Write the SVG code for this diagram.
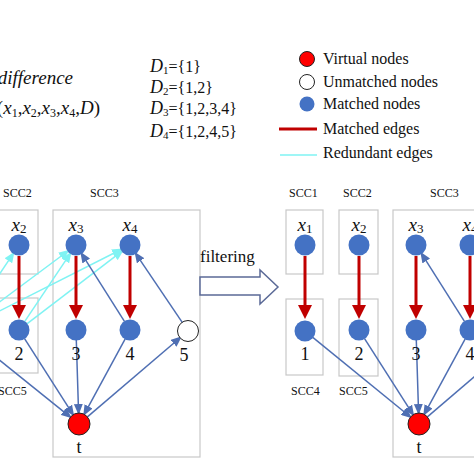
<svg xmlns="http://www.w3.org/2000/svg" width="474" height="474" viewBox="0 0 474 474">
<style>
text{font-family:"Liberation Serif","DejaVu Serif",serif;fill:#111}
.it{font-style:italic}
.scc{font-size:12px}
.lbl{font-size:18px;text-anchor:middle}
.xl{font-size:19px;text-anchor:middle}
.leg{font-size:16px}
.box{fill:none;stroke:#c8c8c8;stroke-width:1.2}
.m{fill:#4472c4}
.v{fill:#ff0000;stroke:#222;stroke-width:1}
.u{fill:#fff;stroke:#222;stroke-width:1}
.red{stroke:#c00000;stroke-width:3;fill:none}
.blue{stroke:#4f6fb3;stroke-width:1.5;fill:none}
.cyan{stroke:#7ff3f3;stroke-width:1.5;fill:none}
</style>
<defs>
<marker id="ar" markerUnits="userSpaceOnUse" markerWidth="14" markerHeight="14" refX="10" refY="7" orient="auto"><path d="M0,0 L14,7 L0,14 z" fill="#c00000"/></marker>
<marker id="ab" markerUnits="userSpaceOnUse" markerWidth="11" markerHeight="9" refX="9" refY="4.5" orient="auto"><path d="M0,0 L11,4.5 L0,9 z" fill="#4f6fb3"/></marker>
<marker id="ac" markerUnits="userSpaceOnUse" markerWidth="11" markerHeight="9" refX="9" refY="4.5" orient="auto"><path d="M0,0 L11,4.5 L0,9 z" fill="#7ff3f3"/></marker>
</defs>
<rect width="474" height="474" fill="#fff"/>

<g id="formula">
<text class="it" x="73" y="84" font-size="19" text-anchor="end">difference</text>
<text x="100" y="114" font-size="19" text-anchor="end">(<tspan class="it">x</tspan><tspan font-size="12" dy="3">1</tspan><tspan dy="-3">,</tspan><tspan class="it">x</tspan><tspan font-size="12" dy="3">2</tspan><tspan dy="-3">,</tspan><tspan class="it">x</tspan><tspan font-size="12" dy="3">3</tspan><tspan dy="-3">,</tspan><tspan class="it">x</tspan><tspan font-size="12" dy="3">4</tspan><tspan dy="-3">,</tspan><tspan class="it">D</tspan>)</text>
<text x="150" y="72" font-size="16"><tspan class="it" font-size="18">D</tspan><tspan font-size="11" dy="2">1</tspan><tspan dy="-2">={1}</tspan></text>
<text x="150" y="93" font-size="16"><tspan class="it" font-size="18">D</tspan><tspan font-size="11" dy="2">2</tspan><tspan dy="-2">={1,2}</tspan></text>
<text x="150" y="114" font-size="16"><tspan class="it" font-size="18">D</tspan><tspan font-size="11" dy="2">3</tspan><tspan dy="-2">={1,2,3,4}</tspan></text>
<text x="150" y="137" font-size="16"><tspan class="it" font-size="18">D</tspan><tspan font-size="11" dy="2">4</tspan><tspan dy="-2">={1,2,4,5}</tspan></text>
</g>

<g id="legend">
<circle class="v" cx="307" cy="59" r="7.5"/>
<circle class="u" cx="307" cy="82" r="7.5"/>
<circle class="m" cx="307" cy="104" r="7.5"/>
<line x1="279" y1="129" x2="317" y2="129" class="red"/>
<line x1="280" y1="155" x2="317" y2="155" class="cyan"/>
<text class="leg" x="323" y="64">Virtual nodes</text>
<text class="leg" x="323" y="87">Unmatched nodes</text>
<text class="leg" x="323" y="109">Matched nodes</text>
<text class="leg" x="323" y="134">Matched edges</text>
<text class="leg" x="323" y="158">Redundant edges</text>
</g>

<g id="boxes">
<rect class="box" x="-20" y="210" width="58" height="64"/>
<rect class="box" x="-20" y="298" width="58" height="75"/>
<rect class="box" x="53" y="210" width="147" height="247"/>
<rect class="box" x="286" y="210" width="37" height="64"/>
<rect class="box" x="339" y="210" width="39" height="64"/>
<rect class="box" x="286" y="299" width="37" height="76"/>
<rect class="box" x="339" y="299" width="39" height="77"/>
<rect class="box" x="393" y="210" width="100" height="247"/>
<text class="scc" x="3" y="197">SCC2</text>
<text class="scc" x="90" y="197">SCC3</text>
<text class="scc" x="-2" y="395">SCC5</text>
<text class="scc" x="289" y="197">SCC1</text>
<text class="scc" x="343" y="197">SCC2</text>
<text class="scc" x="430" y="197">SCC3</text>
<text class="scc" x="291" y="395">SCC4</text>
<text class="scc" x="339" y="395">SCC5</text>
</g>

<g id="filtering">
<path d="M200,277 L260,277 L260,270 L278,287 L260,304 L260,295 L200,295 Z" fill="#fff" stroke="#5b6a97" stroke-width="1.5"/>
<text x="200" y="262" font-size="17">filtering</text>
</g>

<g id="connectors">
<line class="cyan" x1="-38" y1="330" x2="13.4" y2="253.3" marker-end="url(#ac)"/>
<line class="cyan" x1="-38" y1="330" x2="68" y2="251" marker-end="url(#ac)"/>
<line class="cyan" x1="-38" y1="330" x2="121.1" y2="249.5" marker-end="url(#ac)"/>
<line class="cyan" x1="24.6" y1="321.7" x2="70.4" y2="253.3" marker-end="url(#ac)"/>
<line class="cyan" x1="26.9" y1="323.9" x2="122.1" y2="251.1" marker-end="url(#ac)"/>

<line class="red" x1="19" y1="256" x2="19" y2="315" marker-end="url(#ar)"/>
<line class="red" x1="76" y1="256" x2="76" y2="315" marker-end="url(#ar)"/>
<line class="red" x1="130" y1="256" x2="130" y2="315" marker-end="url(#ar)"/>
<line class="red" x1="305" y1="256" x2="305" y2="315" marker-end="url(#ar)"/>
<line class="red" x1="359" y1="256" x2="359" y2="315" marker-end="url(#ar)"/>
<line class="red" x1="416" y1="256" x2="416" y2="315" marker-end="url(#ar)"/>
<line class="red" x1="470" y1="256" x2="470" y2="315" marker-end="url(#ar)"/>

<line class="blue" x1="124.6" y1="321.6" x2="81.4" y2="253.4" marker-end="url(#ab)"/>
<line class="blue" x1="182.4" y1="322.7" x2="135.6" y2="253.3" marker-end="url(#ab)"/>
<line class="blue" x1="-38" y1="330" x2="70.4" y2="417.1" marker-end="url(#ab)"/>
<line class="blue" x1="24.4" y1="338.4" x2="73.1" y2="414.7" marker-end="url(#ab)"/>
<line class="blue" x1="76.3" y1="340" x2="78.6" y2="413" marker-end="url(#ab)"/>
<line class="blue" x1="125.2" y1="338.8" x2="84.2" y2="414.3" marker-end="url(#ab)"/>
<line class="blue" x1="87.4" y1="416.9" x2="180.4" y2="337.5" marker-end="url(#ab)"/>

<line class="blue" x1="464.6" y1="321.6" x2="421.4" y2="253.4" marker-end="url(#ab)"/>
<line class="blue" x1="522.4" y1="322.7" x2="475.6" y2="253.3" marker-end="url(#ab)"/>
<line class="blue" x1="312.8" y1="337.3" x2="410.5" y2="417" marker-end="url(#ab)"/>
<line class="blue" x1="364.4" y1="338.4" x2="413.1" y2="414.7" marker-end="url(#ab)"/>
<line class="blue" x1="416.3" y1="340" x2="418.6" y2="413" marker-end="url(#ab)"/>
<line class="blue" x1="465.2" y1="338.8" x2="424.2" y2="414.3" marker-end="url(#ab)"/>
<line class="blue" x1="427.4" y1="416.9" x2="520" y2="337.5"/>
</g>

<g id="L-x2"><circle class="m" cx="19" cy="245" r="10.5"/><text class="xl" x="19" y="231"><tspan class="it">x</tspan><tspan font-size="13" dy="2">2</tspan></text></g>
<g id="L-x3"><circle class="m" cx="76" cy="245" r="10.5"/><text class="xl" x="76" y="231"><tspan class="it">x</tspan><tspan font-size="13" dy="2">3</tspan></text></g>
<g id="L-x4"><circle class="m" cx="130" cy="245" r="10.5"/><text class="xl" x="130" y="231"><tspan class="it">x</tspan><tspan font-size="13" dy="2">4</tspan></text></g>
<g id="L-2"><circle class="m" cx="19" cy="330" r="10.5"/><text class="lbl" x="19" y="360">2</text></g>
<g id="L-3"><circle class="m" cx="76" cy="330" r="10.5"/><text class="lbl" x="76" y="360">3</text></g>
<g id="L-4"><circle class="m" cx="130" cy="330" r="10.5"/><text class="lbl" x="130" y="360">4</text></g>
<g id="L-5"><circle class="u" cx="188" cy="331" r="10.5"/><text class="lbl" x="184" y="361">5</text></g>
<g id="L-t"><circle class="v" cx="79" cy="424" r="11"/><text class="lbl" x="79" y="453">t</text></g>

<g id="R-x1"><circle class="m" cx="305" cy="245" r="10.5"/><text class="xl" x="305" y="231"><tspan class="it">x</tspan><tspan font-size="13" dy="2">1</tspan></text></g>
<g id="R-x2"><circle class="m" cx="359" cy="245" r="10.5"/><text class="xl" x="359" y="231"><tspan class="it">x</tspan><tspan font-size="13" dy="2">2</tspan></text></g>
<g id="R-x3"><circle class="m" cx="416" cy="245" r="10.5"/><text class="xl" x="416" y="231"><tspan class="it">x</tspan><tspan font-size="13" dy="2">3</tspan></text></g>
<g id="R-x4"><circle class="m" cx="470" cy="245" r="10.5"/><text class="xl" x="470" y="231"><tspan class="it">x</tspan><tspan font-size="13" dy="2">4</tspan></text></g>
<g id="R-1"><circle class="m" cx="305" cy="331" r="10.5"/><text class="lbl" x="305" y="360">1</text></g>
<g id="R-2"><circle class="m" cx="359" cy="330" r="10.5"/><text class="lbl" x="359" y="360">2</text></g>
<g id="R-3"><circle class="m" cx="416" cy="330" r="10.5"/><text class="lbl" x="416" y="360">3</text></g>
<g id="R-4"><circle class="m" cx="470" cy="330" r="10.5"/><text class="lbl" x="470" y="360">4</text></g>
<g id="R-t"><circle class="v" cx="419" cy="424" r="11"/><text class="lbl" x="419" y="453">t</text></g>
</svg>
